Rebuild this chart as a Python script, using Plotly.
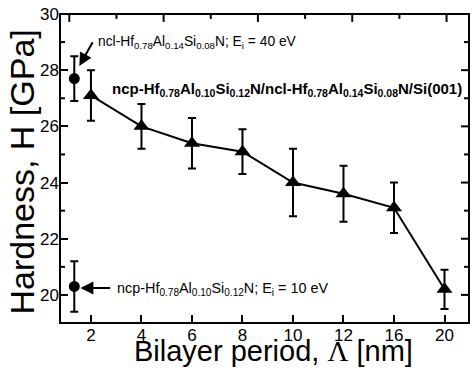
import plotly.graph_objects as go

# ---- data ----
period_labels = ["2", "4", "6", "8", "10", "12", "16", "20"]
hardness = [27.1, 26.0, 25.4, 25.1, 24.0, 23.6, 23.1, 20.2]
hardness_err = [0.9, 0.8, 0.9, 0.8, 1.2, 1.0, 0.9, 0.7]

ref_pos = [-0.33, -0.33]          # position of single-layer reference samples (axis units)
ref_hardness = [27.7, 20.3]
ref_err = [0.8, 0.9]

ytick_major = [20, 22, 24, 26, 28, 30]
ytick_minor = [19, 21, 23, 25, 27, 29]
# top axis of the original frame uses its own (unlabelled) linear scale
top_major = [0, 2, 4, 6, 8]
top_minor = [1, 3, 5, 7]

FONT = "Liberation Sans, Arial, sans-serif"
idx = list(range(len(period_labels)))

W, H = 474, 376
M = dict(l=60, r=5, t=9, b=53)
PW = W - M["l"] - M["r"]
PH = H - M["t"] - M["b"]

XR = [-0.613, 7.485]
TOPR = [-0.197, 8.476]
YR = [19, 30]


def top_to_x(t):
    return XR[0] + (t - TOPR[0]) * (XR[1] - XR[0]) / (TOPR[1] - TOPR[0])


fig = go.Figure()
fig.add_trace(go.Scatter(
    x=idx, y=hardness, mode="lines+markers",
    line=dict(color="black", width=2),
    marker=dict(symbol="triangle-up", size=14, color="black"),
    error_y=dict(type="data", array=hardness_err, color="black", thickness=2, width=4),
    showlegend=False, cliponaxis=False))
fig.add_trace(go.Scatter(
    x=ref_pos, y=ref_hardness, mode="markers",
    marker=dict(symbol="circle", size=11, color="black"),
    error_y=dict(type="data", array=ref_err, color="black", thickness=2, width=4),
    showlegend=False, cliponaxis=False))

base = dict(showline=False, ticks="inside", tickcolor="black", tickwidth=2,
            showgrid=False, zeroline=False)

fig.update_layout(
    width=W, height=H, margin=M,
    paper_bgcolor="white", plot_bgcolor="white",
    font=dict(family=FONT, color="black"),
    xaxis=dict(**base, range=XR, tickmode="array", tickvals=idx, ticktext=period_labels,
               ticklen=8, tickfont=dict(size=17)),
    yaxis=dict(**base, range=YR, tickmode="array", tickvals=ytick_major,
               ticklen=8, tickfont=dict(size=17), ticklabeloverflow="allow"),
)

tick_line = dict(color="black", width=2)
# top frame ticks (inward)
for vals, ln in [(top_major, 8), (top_minor, 5)]:
    for t in vals:
        xv = top_to_x(t)
        fig.add_shape(type="line", xref="x", yref="paper", x0=xv, x1=xv,
                      y0=1, y1=1 - ln / PH, line=tick_line, layer="above")
# right frame ticks (inward)
for vals, ln in [(ytick_major, 8), (ytick_minor, 5)]:
    for v in vals:
        fig.add_shape(type="line", xref="paper", yref="y", x0=1, x1=1 - ln / PW,
                      y0=v, y1=v, line=tick_line, layer="above")
# left minor ticks (inward)
for v in ytick_minor:
    fig.add_shape(type="line", xref="paper", yref="y", x0=0, x1=5 / PW,
                  y0=v, y1=v, line=tick_line, layer="above")

# plot frame
fig.add_shape(type="rect", xref="paper", yref="paper", x0=0, y0=0, x1=1, y1=1,
              line=dict(color="black", width=2), layer="above")

# axis titles
fig.add_annotation(xref="paper", yref="paper", x=0.5217, y=-0.092, xanchor="center", yanchor="middle",
                   showarrow=False, font=dict(size=29, family=FONT),
                   text='Bilayer period, <span style="font-family:Liberation Serif, Times New Roman, serif">Λ</span> [nm]')
fig.add_annotation(xref="paper", yref="paper", x=-0.093, y=0.49, xanchor="center", yanchor="middle",
                   showarrow=False, textangle=-90, font=dict(size=34, family=FONT),
                   text="Hardness, H [GPa]")

# top reference label + arrow
fig.add_annotation(x=ref_pos[0] + 0.10, y=ref_hardness[0] + 0.45, ax=ref_pos[0] + 0.38,
                   ay=ref_hardness[0] + 1.35, axref="x", ayref="y", text="", showarrow=True,
                   arrowhead=2, arrowsize=1.3, arrowwidth=2, arrowcolor="black")
fig.add_annotation(x=0.105, y=29.0, xanchor="left", yanchor="middle", showarrow=False,
                   text="ncl-Hf<sub>0.78</sub>Al<sub>0.14</sub>Si<sub>0.08</sub>N; E<sub>i</sub> = 40 eV",
                   font=dict(size=13.8, family=FONT, color="black"))
# bottom reference label + arrow
fig.add_annotation(x=ref_pos[1] + 0.12, y=ref_hardness[1] - 0.05, ax=ref_pos[1] + 0.74,
                   ay=ref_hardness[1] - 0.05, axref="x", ayref="y", text="", showarrow=True,
                   arrowhead=2, arrowsize=1.3, arrowwidth=2, arrowcolor="black")
fig.add_annotation(x=0.48, y=20.2, xanchor="left", yanchor="middle", showarrow=False,
                   text="ncp-Hf<sub>0.78</sub>Al<sub>0.10</sub>Si<sub>0.12</sub>N; E<sub>i</sub> = 10 eV",
                   font=dict(size=14.4, family=FONT, color="black"))
# bold sample description
fig.add_annotation(x=0.38, y=27.33, xanchor="left", yanchor="middle", showarrow=False,
                   text="<b>ncp-Hf<sub>0.78</sub>Al<sub>0.10</sub>Si<sub>0.12</sub>N/ncl-Hf<sub>0.78</sub>Al<sub>0.14</sub>Si<sub>0.08</sub>N/Si(001)</b>",
                   font=dict(size=15, family=FONT, color="black"))

fig.write_html("out.html", config={"displayModeBar": False},
               post_script="document.body.style.margin='0';")
